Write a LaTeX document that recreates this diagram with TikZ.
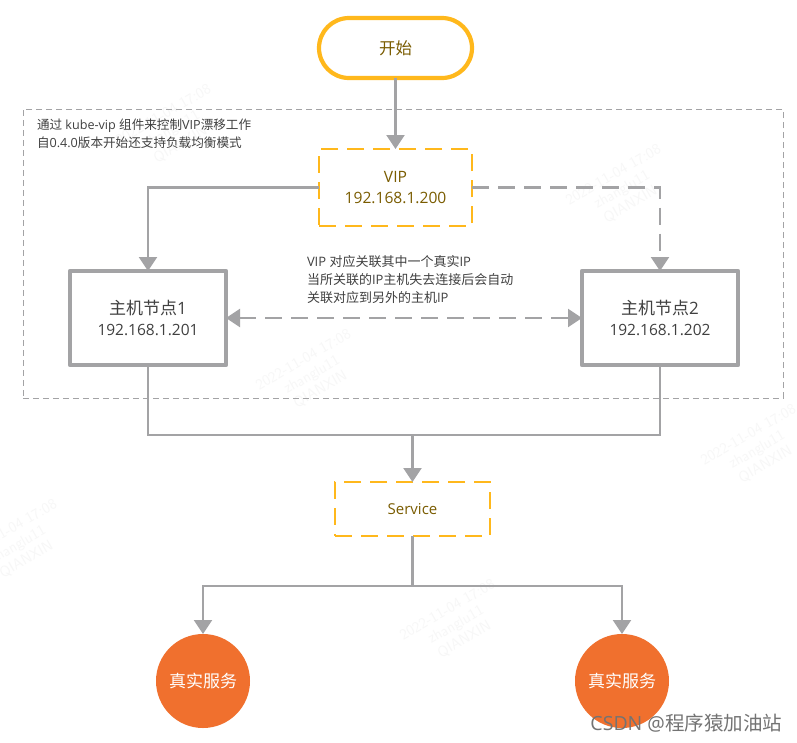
\documentclass[tikz,border=0pt]{standalone}
\usepackage{fontspec}
\setmainfont{Open Sans}
\newfontfamily\cjk{Noto Sans CJK SC}
\newcommand\zh[1]{{\cjk #1}}
\usetikzlibrary{arrows.meta,shapes.misc}
\definecolor{yel}{HTML}{FFB81C}
\definecolor{gry}{HTML}{A3A3A5}
\definecolor{org}{HTML}{F0702E}
\definecolor{olv}{HTML}{7A5C00}
\definecolor{txt}{HTML}{404040}
\definecolor{wm}{HTML}{F7F7F7}
\tikzset{
 x=1pt,y=-1pt,
 every node/.style={outer sep=0pt,inner sep=0pt,align=center},
 startbox/.style={rounded rectangle,draw=yel,line width=4.2pt,minimum width=153pt,minimum height=60pt,text=olv,font=\fontsize{16.5}{20}\selectfont},
 ybox/.style={rectangle,draw=yel,line width=2.7pt,dash pattern=on 17pt off 9pt,text=olv},
 hostbox/.style={rectangle,draw=gry,line width=4.2pt,line join=round,fill=white,minimum width=156pt,minimum height=94pt,text=txt,font=\fontsize{15.5}{21}\selectfont},
 realsvc/.style={circle,fill=org,minimum size=94pt,text=white,font=\fontsize{17}{20}\selectfont},
 link/.style={draw=gry,line width=2.2pt},
 arr/.style={link,-{Triangle[length=14pt,width=18pt,fill=gry]}},
 note/.style={align=left,anchor=north west,text=txt,font=\fontsize{12.6}{18}\selectfont},
 wmark/.style={rotate=30,text=wm,font=\sffamily\fontsize{15}{17}\selectfont},
}
\newcommand\hosthead[1]{{\fontsize{17}{21}\selectfont #1}}
\begin{document}
\begin{tikzpicture}
\useasboundingbox (0,0) rectangle (797,742);
\fill[white] (0,0) rectangle (797,742);
% watermarks
\foreach \p in {(172,130),(622,190),(312,375),(757,450),(456,625),(18,545)}
  \node[wmark] at \p {2022-11-04 17:08\\zhanglu11\\QIANXIN};
% outer group frame
\node[draw=gry,line width=0.8pt,dash pattern=on 6pt off 4pt,minimum width=760pt,minimum height=289pt] (frame) at (403,253.5) {};
% nodes
\node[startbox] (start) at (395.5,48) {\zh{开始}};
\node[ybox,minimum width=153pt,minimum height=77pt,font=\fontsize{15.6}{21}\selectfont] (vip) at (395.5,187.5) {VIP\\192.168.1.200};
\node[hostbox] (h1) at (148,318) {\hosthead{\zh{主机节点}1}\\192.168.1.201};
\node[hostbox] (h2) at (660,318) {\hosthead{\zh{主机节点}2}\\192.168.1.202};
\node[ybox,minimum width=155pt,minimum height=54pt,font=\fontsize{15}{18}\selectfont] (svc) at (412.5,509) {Service};
\node[realsvc] (r1) at (203,681) {\zh{真实服务}};
\node[realsvc] (r2) at (622,681) {\zh{真实服务}};
% texts
\node[note] (n1) at (37,119) {\zh{通过} kube-vip \zh{组件来控制}VIP\zh{漂移工作}\\\zh{自}0.4.0\zh{版本开始还支持负载均衡模式}};
\node[note,font=\fontsize{13}{18}\selectfont] (n2) at (307,255) {VIP \zh{对应关联其中一个真实}IP\\\zh{当所关联的}IP\zh{主机失去连接后会自动}\\\zh{关联对应到另外的主机}IP};
% connectors
\coordinate (join) at (412.5,435);
\coordinate (fork) at (412.5,586);
\draw[arr] (start) -- (vip);
\draw[arr] (vip.west) -| (h1.north);
\draw[arr,dash pattern=on 17pt off 9pt] (vip.east) -| (h2.north);
\draw[link,dash pattern=on 17pt off 9pt,{Triangle[length=14pt,width=18pt,fill=gry]}-{Triangle[length=14pt,width=18pt,fill=gry]}] (h1) -- (h2);
\draw[link] (h1.south) |- (join);
\draw[link] (h2.south) |- (join);
\draw[arr] (join) -- (svc);
\draw[link] (svc) -- (fork);
\draw[arr] (fork) -| (r1.north);
\draw[arr] (fork) -| (r2.north);
% CSDN mark
\node[anchor=east,text=black!55,font=\fontsize{19.5}{22}\selectfont] (csdn) at (782,723) {CSDN @\zh{程序猿加油站}};
\end{tikzpicture}
\end{document}
